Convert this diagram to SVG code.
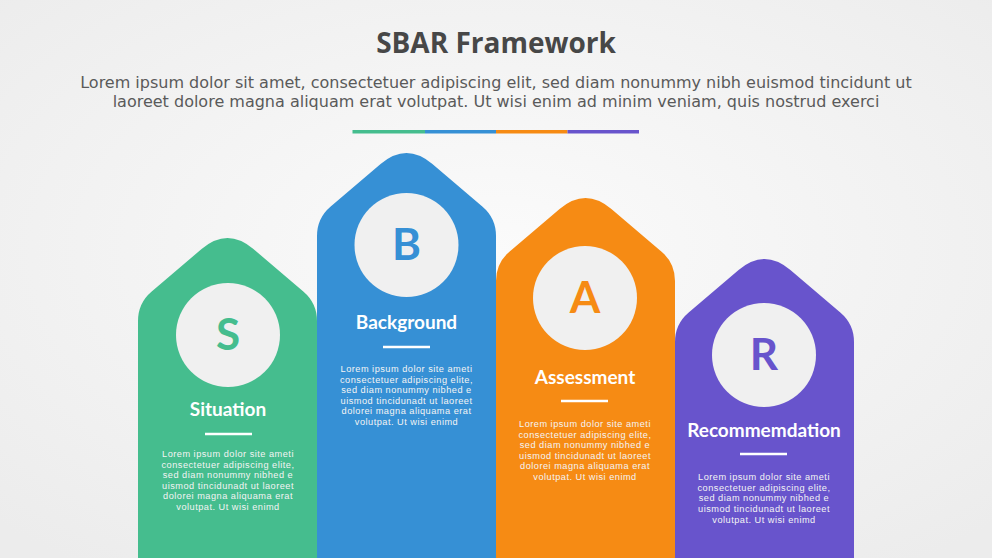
<svg xmlns="http://www.w3.org/2000/svg" width="992" height="558" viewBox="0 0 992 558">
  <defs>
    <radialGradient id="bg" cx="50%" cy="45%" r="70%">
      <stop offset="0" stop-color="#fbfbfb"/>
      <stop offset="1" stop-color="#ececec"/>
    </radialGradient>
  </defs>
  <style>
    .title { font-family: "Open Sans", "Liberation Sans", sans-serif; font-weight: 700; font-size: 28px; fill: #474747; text-anchor: middle; }
    .sub { font-family: "DejaVu Sans", "Liberation Sans", sans-serif; font-size: 16px; fill: #5a5a5a; text-anchor: middle; }
    .circ { fill: #f0f0f0; }
    .letter { font-family: Lato, "Liberation Sans", sans-serif; font-weight: 700; font-size: 44px; text-anchor: middle; }
    .head { font-family: Lato, "Liberation Sans", sans-serif; font-weight: 700; font-size: 19px; fill: #ffffff; text-anchor: middle; }
    .uline { stroke: #ffffff; stroke-width: 2.5; }
    .body { font-family: "Liberation Sans", Arial, sans-serif; font-size: 9.2px; letter-spacing: 0.5px; fill: #f4f4f4; text-anchor: middle; }
    .green { fill: #45bd8e; }
    .blue { fill: #3690d5; }
    .orange { fill: #f68b14; }
    .purple { fill: #6854cc; }
  </style>
  <rect width="992" height="558" fill="url(#bg)"/>

  <g id="header">
    <text class="title" x="496" y="53">SBAR Framework</text>
    <text class="sub" x="496" y="88">Lorem ipsum dolor sit amet, consectetuer adipiscing elit, sed diam nonummy nibh euismod tincidunt ut</text>
    <text class="sub" x="496" y="107">laoreet dolore magna aliquam erat volutpat. Ut wisi enim ad minim veniam, quis nostrud exerci</text>
    <rect class="green" x="352.5" y="130" width="72.5" height="3.5"/>
    <rect class="blue" x="425" y="130" width="71" height="3.5"/>
    <rect class="orange" x="496" y="130" width="71.5" height="3.5"/>
    <rect class="purple" x="567.5" y="130" width="71.5" height="3.5"/>
  </g>

  <g id="situation">
    <path class="green" d="M138 560 V321 Q138 303 151.7 291.4 L201.6 249 Q227.5 227 253.4 249 L303.3 291.4 Q317 303 317 321 V560 Z"/>
    <circle class="circ" cx="228" cy="335" r="52"/>
    <text class="letter green" x="228" y="350">S</text>
    <text class="head" x="228" y="416">Situation</text>
    <line class="uline" x1="205" y1="434" x2="252" y2="434"/>
    <text class="body" x="228" y="457">Lorem ipsum dolor site ameti</text>
    <text class="body" x="228" y="467.6">consectetuer adipiscing elite,</text>
    <text class="body" x="228" y="478.2">sed diam nonummy nibhed e</text>
    <text class="body" x="228" y="488.8">uismod tincidunadt ut laoreet</text>
    <text class="body" x="228" y="499.4">dolorei magna aliquama erat</text>
    <text class="body" x="228" y="510">volutpat. Ut wisi enimd</text>
  </g>

  <g id="background">
    <path class="blue" d="M317 560 V236 Q317 218 330.7 206.4 L380.6 164 Q406.5 142 432.4 164 L482.3 206.4 Q496 218 496 236 V560 Z"/>
    <circle class="circ" cx="406.5" cy="245" r="52"/>
    <text class="letter blue" x="406.5" y="260">B</text>
    <text class="head" x="406.5" y="329">Background</text>
    <line class="uline" x1="383" y1="347" x2="430" y2="347"/>
    <text class="body" x="406.5" y="372">Lorem ipsum dolor site ameti</text>
    <text class="body" x="406.5" y="382.6">consectetuer adipiscing elite,</text>
    <text class="body" x="406.5" y="393.2">sed diam nonummy nibhed e</text>
    <text class="body" x="406.5" y="403.8">uismod tincidunadt ut laoreet</text>
    <text class="body" x="406.5" y="414.4">dolorei magna aliquama erat</text>
    <text class="body" x="406.5" y="425">volutpat. Ut wisi enimd</text>
  </g>

  <g id="assessment">
    <path class="orange" d="M496 560 V281 Q496 263 509.7 251.4 L559.6 209 Q585.5 187 611.4 209 L661.3 251.4 Q675 263 675 281 V560 Z"/>
    <circle class="circ" cx="585" cy="298" r="52"/>
    <text class="letter orange" x="585" y="313">A</text>
    <text class="head" x="585" y="384">Assessment</text>
    <line class="uline" x1="561" y1="401" x2="608" y2="401"/>
    <text class="body" x="585" y="427">Lorem ipsum dolor site ameti</text>
    <text class="body" x="585" y="437.6">consectetuer adipiscing elite,</text>
    <text class="body" x="585" y="448.2">sed diam nonummy nibhed e</text>
    <text class="body" x="585" y="458.8">uismod tincidunadt ut laoreet</text>
    <text class="body" x="585" y="469.4">dolorei magna aliquama erat</text>
    <text class="body" x="585" y="480">volutpat. Ut wisi enimd</text>
  </g>

  <g id="recommendation">
    <path class="purple" d="M675 560 V342 Q675 324 688.7 312.4 L738.6 270 Q764.5 248 790.4 270 L840.3 312.4 Q854 324 854 342 V560 Z"/>
    <circle class="circ" cx="764" cy="355" r="52"/>
    <text class="letter purple" x="764" y="370">R</text>
    <text class="head" x="764" y="437">Recommemdation</text>
    <line class="uline" x1="740" y1="454" x2="787" y2="454"/>
    <text class="body" x="764" y="480.1">Lorem ipsum dolor site ameti</text>
    <text class="body" x="764" y="490.7">consectetuer adipiscing elite,</text>
    <text class="body" x="764" y="501.3">sed diam nonummy nibhed e</text>
    <text class="body" x="764" y="511.9">uismod tincidunadt ut laoreet</text>
    <text class="body" x="764" y="522.5">volutpat. Ut wisi enimd</text>
  </g>
</svg>
